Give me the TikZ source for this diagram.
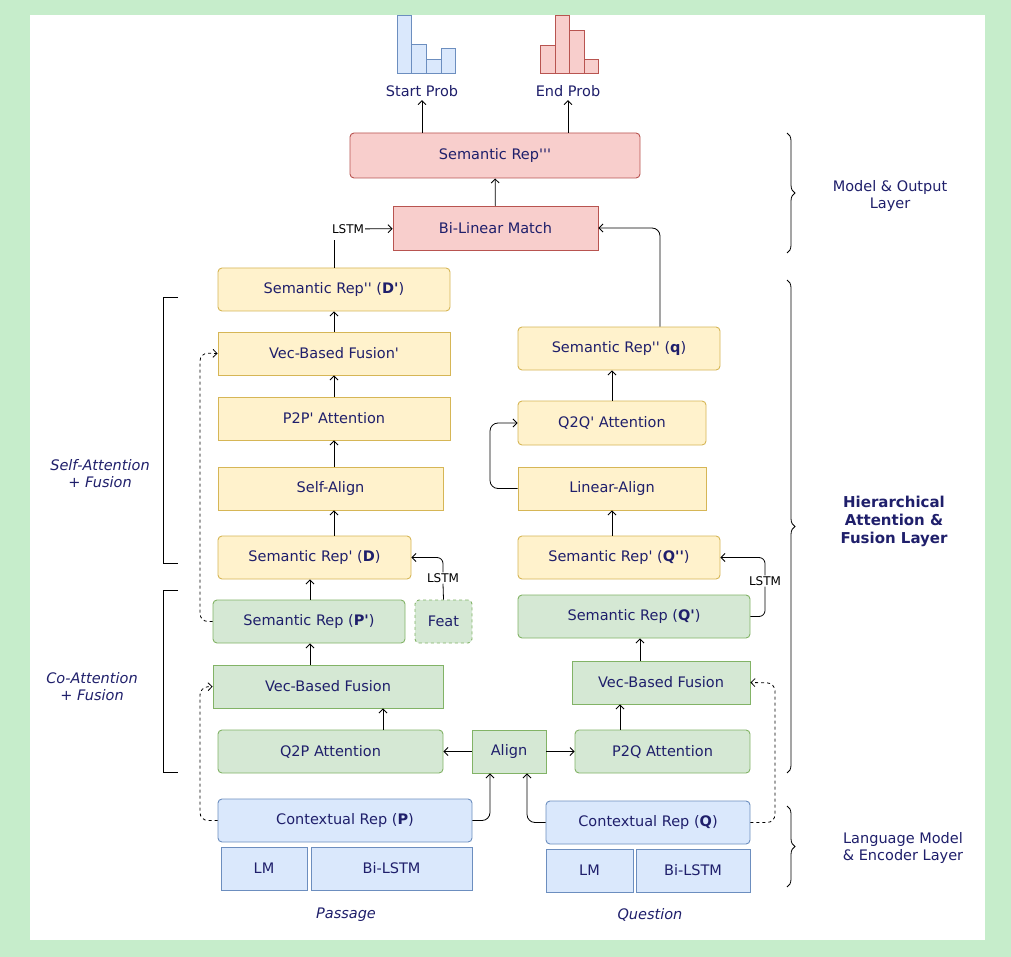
\documentclass[tikz,border=0pt]{standalone}
\usepackage{fontspec}
\setmainfont{DejaVu Sans}
\usetikzlibrary{arrows,arrows.meta,calc,positioning,decorations.pathreplacing}
\definecolor{navy}{HTML}{1F1F6B}
\definecolor{ylwF}{HTML}{FFF2CC}\definecolor{ylwD}{HTML}{D6B656}
\definecolor{grnF}{HTML}{D5E8D4}\definecolor{grnD}{HTML}{82B366}
\definecolor{bluF}{HTML}{DAE8FC}\definecolor{bluD}{HTML}{6C8EBF}
\definecolor{redF}{HTML}{F8CECC}\definecolor{redD}{HTML}{B85450}
\definecolor{bgGreen}{HTML}{C6EDCB}
\newcommand{\pr}{\textquotesingle}
\tikzset{
  >={Straight Barb[length=4pt,width=8pt]},
  blk/.style={rectangle, draw, line width=0.9pt, text=navy, inner sep=0pt,
    font=\fontsize{14.5}{16}\selectfont, rounded corners=4pt},
  ylw/.style={blk, fill=ylwF, draw=ylwD},
  grn/.style={blk, fill=grnF, draw=grnD},
  blu/.style={blk, fill=bluF, draw=bluD},
  red/.style={blk, fill=redF, draw=redD},
  sharp/.style={rounded corners=0pt},
  lbl/.style={text=navy, font=\fontsize{14.5}{17}\selectfont, align=center},
  small/.style={font=\fontsize{12}{13}\selectfont, inner sep=1pt},
  line/.style={->, line width=0.8pt},
  dline/.style={->, line width=0.8pt, dashed},
}
\newcommand{\boxat}[6]{% name, style, x1, y1, x2, y2
  \node (#1) [#2, minimum width=#5-#3, minimum height=#6-#4] at ({(#3+#5)/2},{(#4+#6)/2})}
\begin{document}
\begin{tikzpicture}[x=1pt,y=-1pt]
  \fill[bgGreen] (0,0) rectangle (1011,957);
  \fill[white] (30,15) rectangle (985,940);

  % histograms
  \foreach \a/\b/\t in {397/411/15,411/426/44,426/441/59,441/455/48}
    \draw[bluD, fill=bluF, line width=0.8pt] (\a,73) rectangle (\b,\t);
  \foreach \a/\b/\t in {540/555/45,555/569/15,569/584/30,584/598/59}
    \draw[redD, fill=redF, line width=0.8pt] (\a,73) rectangle (\b,\t);
  \node (start) [lbl] at (422,91) {Start Prob};
  \node (end) [lbl] at (568,91) {End Prob};

  % output
  \boxat{sem3}{red}{350}{133}{640}{178} {Semantic Rep\pr\pr\pr};
  \boxat{bilin}{red,sharp}{393}{206}{598}{250} {Bi-Linear Match};

  % passage side
  \boxat{dd}{ylw}{218}{268}{450}{311} {Semantic Rep\pr\pr{} (\textbf{D\pr})};
  \boxat{vecfp}{ylw,sharp}{218}{332}{450}{375} {Vec-Based Fusion\pr};
  \boxat{p2p}{ylw,sharp}{218}{397}{450}{440} {P2P\pr{} Attention};
  \boxat{salign}{ylw,sharp}{218}{467}{443}{510} {Self-Align};
  \boxat{d}{ylw}{218}{536}{411}{579} {Semantic Rep\pr{} (\textbf{D})};
  \boxat{pp}{grn}{213}{600}{405}{643} {Semantic Rep (\textbf{P\pr})};
  \boxat{feat}{grn,dashed}{415}{600}{472}{643} {Feat};
  \boxat{vecf}{grn,sharp}{213}{665}{443}{708} {Vec-Based Fusion};
  \boxat{q2p}{grn}{218}{730}{443}{773} {Q2P Attention};
  \boxat{align}{grn,sharp}{472}{730}{546}{773} {Align};
  \boxat{ctxp}{blu}{218}{799}{472}{842} {Contextual Rep (\textbf{P})};
  \boxat{lmp}{blu,sharp}{221}{847}{307}{890} {LM};
  \boxat{lstmp}{blu,sharp}{311}{847}{472}{890} {Bi-LSTM};
  \node (passage) [lbl] at (346,915) {\itshape Passage};

  % question side
  \boxat{qq}{ylw}{518}{327}{720}{370} {Semantic Rep\pr\pr{} (\textbf{q})};
  \boxat{q2q}{ylw}{518}{401}{706}{445} {Q2Q\pr{} Attention};
  \boxat{lalign}{ylw,sharp}{518}{467}{706}{510} {Linear-Align};
  \boxat{q2}{ylw}{518}{536}{720}{579} {Semantic Rep\pr{} (\textbf{Q\pr\pr})};
  \boxat{qp}{grn}{518}{595}{750}{638} {Semantic Rep (\textbf{Q\pr})};
  \boxat{vecfq}{grn,sharp}{572}{661}{750}{704} {Vec-Based Fusion};
  \boxat{p2q}{grn}{575}{730}{750}{773} {P2Q Attention};
  \boxat{ctxq}{blu}{546}{801}{750}{844} {Contextual Rep (\textbf{Q})};
  \boxat{lmq}{blu,sharp}{546}{849}{633}{892} {LM};
  \boxat{lstmq}{blu,sharp}{636}{849}{750}{892} {Bi-LSTM};
  \node (question) [lbl] at (650,915) {\itshape Question};

  % connectors
  \draw[line] (422,133) -- (start);
  \draw[line] (568,133) -- (end);
  \draw[line] (bilin) -- (sem3);
  \node (lstm1) [small] at (348,229) {LSTM};
  \draw[line width=0.8pt] (dd.north -| 334,0) -- (334,240);
  \draw[line] (lstm1) -- (bilin);
  \draw[line, rounded corners=8pt] (qq.north -| 660,0) |- (bilin.east);
  \draw[line] (vecfp.north -| 334,0) -- (dd.south -| 334,0);
  \draw[line] (p2p.north -| 334,0) -- (vecfp.south -| 334,0);
  \draw[line] (salign.north -| 334,0) -- (p2p.south -| 334,0);
  \draw[line] (d.north -| 334,0) -- (salign.south -| 334,0);
  \draw[line] (pp.north -| 310,0) -- (d.south -| 310,0);
  \draw[line] (vecf.north -| 310,0) -- (pp.south -| 310,0);
  \draw[line] (q2p.north -| 383,0) -- (vecf.south -| 383,0);
  \draw[line] (align) -- (q2p);
  \draw[line] (align) -- (p2q);
  \draw[line] (p2q.north -| 620,0) -- (vecfq.south -| 620,0);
  \draw[line] (vecfq.north -| 640,0) -- (qp.south -| 640,0);
  \draw[line] (q2.north -| 612,0) -- (lalign.south -| 612,0);
  \draw[line, rounded corners=8pt] (lalign.west) -| (490,423) -- (q2q.west);
  \draw[line] (q2q.north -| 612,0) -- (qq.south -| 612,0);
  \draw[line, rounded corners=8pt] (ctxp.east) -| (align.south -| 490,0);
  \draw[line, rounded corners=8pt] (ctxq.west) -| (align.south -| 527,0);
  \node (lstm2) [small] at (443,578) {LSTM};
  \draw[line width=0.8pt] (feat.north) -- (lstm2.south);
  \draw[line, rounded corners=6pt] (lstm2.north) |- (d.east);
  \node (lstm3) [small] at (765,581) {LSTM};
  \draw[line width=0.8pt, rounded corners=6pt] (qp.east) -| (lstm3.south);
  \draw[line, rounded corners=6pt] (lstm3.north) |- (q2.east);
  \draw[dline, rounded corners=8pt] (pp.west) -| (200,353) -- (vecfp.west);
  \draw[dline, rounded corners=8pt] (ctxp.west) -| (200,687) -- (vecf.west);
  \draw[dline, rounded corners=8pt] (ctxq.east) -| (775,683) -- (vecfq.east);

  % layer braces
  \draw[line width=0.8pt, decorate, decoration={brace, amplitude=8pt}]
    (787,133) -- (787,253);
  \draw[line width=0.8pt, decorate, decoration={brace, amplitude=8pt}]
    (787,280) -- (787,773);
  \draw[line width=0.8pt, decorate, decoration={brace, amplitude=8pt}]
    (787,806) -- (787,887);
  \node (mol) [lbl] at (890,196) {Model \& Output\\Layer};
  \node (haf) [lbl, font=\fontsize{15}{18}\selectfont\bfseries] at (894,521)
    {Hierarchical\\Attention \&\\Fusion Layer};
  \node (lml) [lbl] at (903,848) {Language Model\\\& Encoder Layer};
  \draw[line width=0.8pt] (178,297) -- (163,297) -- (163,563) -- (178,563);
  \draw[line width=0.8pt] (178,590) -- (163,590) -- (163,772) -- (178,772);
  \node (saf) [lbl, font=\fontsize{14.5}{17}\selectfont\itshape] at (100,474)
    {Self-Attention\\+ Fusion};
  \node (caf) [lbl, font=\fontsize{14.5}{17}\selectfont\itshape] at (92,687)
    {Co-Attention\\+ Fusion};
\end{tikzpicture}
\end{document}
